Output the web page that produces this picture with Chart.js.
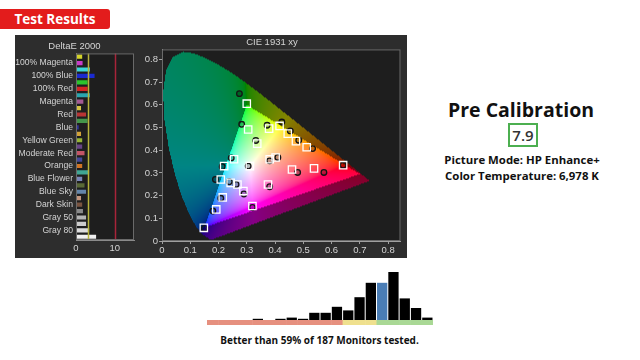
<!DOCTYPE html>
<html>
<head>
<meta charset="utf-8">
<script src="https://cdn.jsdelivr.net/npm/chart.js@4.4.0/dist/chart.umd.min.js"></script>
<style>
  html, body { margin: 0; padding: 0; background: #fff; }
  body { width: 640px; height: 360px; position: relative; overflow: hidden; font-family: "Open Sans", sans-serif; }
  .badge { position: absolute; left: 0; top: 9px; width: 110px; height: 20px; background: #e31c1c; color: #fff;
           font-weight: 700; font-size: 13.5px; line-height: 20px; text-align: center; border-radius: 0 3px 3px 0; }
  .panel { position: absolute; left: 15px; top: 35px; width: 392px; height: 223px; background: #2d2d2d; }
  canvas { position: absolute; }
  #deltaChart { left: 15px; top: 36px; }
  #cieChart { left: 140px; top: 36px; }
  #histChart { left: 207px; top: 266px; }
  .txt { position: absolute; text-align: center; font-weight: 700; color: #111; white-space: nowrap; }
  #preCal { left: 420px; width: 202px; top: 97px; font-size: 19.5px; line-height: 26px; }
  #score { left: 508px; top: 123px; width: 26px; height: 20px; border: 2px solid #4caf50; font-size: 15px; line-height: 20px;
           color: #333; font-weight: 600; }
  #mode { left: 420px; width: 204px; top: 152px; font-size: 11.4px; line-height: 16px; }
  #temp { left: 420px; width: 204px; top: 168px; font-size: 11.4px; line-height: 16px; }
  #summary { left: 200px; width: 239px; top: 332px; font-size: 10px; line-height: 16px; }
</style>
</head>
<body>
<div class="badge">Test Results</div>
<div class="panel"></div>
<canvas id="deltaChart" width="125" height="221"></canvas>
<canvas id="cieChart" width="267" height="221"></canvas>
<canvas id="histChart" width="226" height="60"></canvas>
<div class="txt" id="preCal">Pre Calibration</div>
<div class="txt" id="score">7.9</div>
<div class="txt" id="mode">Picture Mode: HP Enhance+</div>
<div class="txt" id="temp">Color Temperature: 6,978 K</div>
<div class="txt" id="summary">Better than 59% of 187 Monitors tested.</div>

<script>
// DATA - DeltaE 2000 per patch (top to bottom)
const patchNames = ["100% Yellow", "100% Magenta", "100% Cyan", "100% Blue", "100% Green", "100% Red",
    "Cyan", "Magenta", "Yellow", "Red", "Green", "Blue", "Orange Yellow", "Yellow Green", "Purple",
    "Moderate Red", "Purplish Blue", "Orange", "Bluish Green", "Blue Flower", "Foliage", "Blue Sky",
    "Light Skin", "Dark Skin", "Gray 35", "Gray 50", "Gray 65", "Gray 80", "White"];
const deltaE = [1.6, 1.7, 3.6, 4.8, 3.0, 3.0, 3.6, 1.9, 1.3, 2.6, 3.0, 0.7, 1.3, 1.6, 1.6,
    2.2, 1.6, 1.6, 3.4, 1.6, 2.2, 2.6, 1.3, 1.6, 1.8, 2.6, 2.6, 3.4, 5.2];
const deltaTicks = [0, 10];
const deltaLimits = [3, 10];

// DATA - CIE 1931 spectral locus (380-700 nm)
const locusX = [0.1741, 0.1740, 0.1738, 0.1736, 0.1733, 0.1730, 0.1726, 0.1721, 0.1714, 0.1703, 0.1689,
    0.1669, 0.1644, 0.1611, 0.1566, 0.1510, 0.1440, 0.1355, 0.1241, 0.1096, 0.0913, 0.0687, 0.0454,
    0.0235, 0.0082, 0.0039, 0.0139, 0.0389, 0.0743, 0.1142, 0.1547, 0.1929, 0.2296, 0.2658, 0.3016,
    0.3373, 0.3731, 0.4087, 0.4441, 0.4788, 0.5125, 0.5448, 0.5752, 0.6029, 0.6270, 0.6482, 0.6658,
    0.6801, 0.6915, 0.7006, 0.7079, 0.7140, 0.7190, 0.7230, 0.7260, 0.7283, 0.7300, 0.7311, 0.7320,
    0.7334, 0.7347];
const locusY = [0.0050, 0.0050, 0.0049, 0.0049, 0.0048, 0.0048, 0.0048, 0.0048, 0.0051, 0.0058, 0.0069,
    0.0086, 0.0109, 0.0138, 0.0177, 0.0227, 0.0297, 0.0399, 0.0578, 0.0868, 0.1327, 0.2007, 0.2950,
    0.4127, 0.5384, 0.6548, 0.7502, 0.8120, 0.8338, 0.8262, 0.8059, 0.7816, 0.7543, 0.7243, 0.6923,
    0.6589, 0.6245, 0.5896, 0.5547, 0.5202, 0.4866, 0.4544, 0.4242, 0.3965, 0.3725, 0.3514, 0.3340,
    0.3197, 0.3083, 0.2993, 0.2920, 0.2859, 0.2809, 0.2770, 0.2740, 0.2717, 0.2700, 0.2689, 0.2680,
    0.2666, 0.2653];
// gamut triangle R, G, B
const gamutX = [0.70, 0.30, 0.15];
const gamutY = [0.295, 0.60, 0.06];

// DATA - targets (squares) and measured (circles)
const targetX = [0.300, 0.305, 0.379, 0.416, 0.445, 0.474, 0.337, 0.512, 0.255, 0.220, 0.381, 0.402, 0.311,
    0.460, 0.538, 0.641, 0.208, 0.243, 0.267, 0.288, 0.375, 0.215, 0.192, 0.320, 0.148];
const targetY = [0.605, 0.491, 0.495, 0.507, 0.473, 0.440, 0.429, 0.413, 0.360, 0.330, 0.360, 0.368, 0.330,
    0.315, 0.320, 0.334, 0.271, 0.256, 0.249, 0.220, 0.249, 0.192, 0.139, 0.154, 0.058];
const measX = [0.274, 0.282, 0.372, 0.424, 0.454, 0.484, 0.332, 0.533, 0.245, 0.213, 0.381, 0.410, 0.305,
    0.480, 0.573, 0.641, 0.189, 0.238, 0.262, 0.290, 0.381, 0.208, 0.180, 0.320, 0.150];
const measY = [0.649, 0.514, 0.510, 0.524, 0.485, 0.444, 0.443, 0.407, 0.366, 0.327, 0.353, 0.368, 0.330,
    0.302, 0.302, 0.334, 0.271, 0.261, 0.249, 0.207, 0.239, 0.188, 0.132, 0.148, 0.055];
const cieTicks = [0, 0.1, 0.2, 0.3, 0.4, 0.5, 0.6, 0.7, 0.8];

// DATA - histogram of monitors tested
const histBins = ["1", "2", "3", "4", "5", "6", "7", "8", "9", "10", "11", "12", "13", "14", "15", "16", "17", "18", "19", "20"];
const monitorCounts = [0, 0, 0, 0, 1, 0, 1, 2, 1, 6, 6, 11, 8, 19, 31, 31, 40, 18, 10, 2];
const currentBin = 15;
const binGrade = ["r", "r", "r", "r", "r", "r", "r", "r", "r", "r", "r", "r", "y", "y", "y", "g", "g", "g", "g", "g"];

// STYLES
const patchColors = ["#d4d42a", "#c83cc8", "#3cd6d6", "#1a2ad0", "#2cc42c", "#d42424", "#2aa6ae", "#a45a94",
    "#d6c444", "#b83434", "#44964a", "#30349a", "#d2a238", "#96b436", "#6a4488", "#c45466", "#44489a",
    "#d27424", "#40a694", "#7a86b8", "#5a6a36", "#6486aa", "#c4967e", "#7a5440", "#8a8a8a", "#b4b4b4",
    "#cccccc", "#dddddd", "#f0f0f0"];
const gradeColors = { r: "#e6907f", y: "#efe08e", g: "#a9d895" };
const axisText = "#d4d4d4";

Chart.defaults.font.family = '"Liberation Sans", Arial, sans-serif';

// PLOT BACKGROUND + FRAME
const plotFrame = {
    id: "plotFrame",
    beforeDraw(chart) {
        const { ctx, chartArea: a } = chart;
        ctx.save();
        ctx.fillStyle = "#1e1e1e";
        ctx.fillRect(a.left, a.top, a.right - a.left, a.bottom - a.top);
        ctx.restore();
    },
    afterDraw(chart) {
        const { ctx, chartArea: a } = chart;
        ctx.save();
        ctx.strokeStyle = "#6a6a6a";
        ctx.lineWidth = 1;
        ctx.strokeRect(a.left + 0.5, a.top + 0.5, a.right - a.left - 1, a.bottom - a.top - 1);
        ctx.restore();
    }
};

// DELTA E THRESHOLD LINES
const limitLines = {
    id: "limitLines",
    afterDatasetsDraw(chart) {
        const { ctx, chartArea: a, scales: { x } } = chart;
        const colors = ["#b8b43c", "#a8243a"];
        ctx.save();
        deltaLimits.forEach((v, i) => {
            const px = Math.round(x.getPixelForValue(v)) + 0.5;
            ctx.strokeStyle = colors[i];
            ctx.lineWidth = 1.5;
            ctx.beginPath();
            ctx.moveTo(px, a.top);
            ctx.lineTo(px, a.bottom);
            ctx.stroke();
        });
        ctx.restore();
    }
};

// DELTA E CHART
new Chart(document.getElementById("deltaChart"), {
    type: "bar",
    data: {
        labels: patchNames,
        datasets: [{ data: deltaE, backgroundColor: patchColors, barPercentage: 0.65, categoryPercentage: 1 }]
    },
    options: {
        responsive: false,
        animation: false,
        indexAxis: "y",
        layout: { padding: { right: 6 } },
        plugins: {
            legend: { display: false },
            tooltip: { enabled: false },
            title: { display: true, text: "DeltaE 2000", color: axisText, font: { size: 9.5, weight: "normal" }, padding: { top: 5, bottom: 1 } }
        },
        scales: {
            x: {
                min: 0, max: 15,
                afterBuildTicks: s => { s.ticks = deltaTicks.map(v => ({ value: v })); },
                afterFit: s => { s.height = 17; },
                ticks: { color: axisText, font: { size: 9.5 }, padding: 3 },
                grid: { display: false, drawTicks: false },
                border: { color: "#8a8a8a" }
            },
            y: {
                afterFit: s => { s.width = 61; },
                ticks: { autoSkip: false, color: axisText, font: { size: 8.6 }, padding: 3, callback: (v, i) => i % 2 ? patchNames[i] : "" },
                grid: { display: false, drawTicks: false },
                border: { color: "#8a8a8a" }
            }
        }
    },
    plugins: [plotFrame, limitLines]
});

// CIE COLOUR FIELD
function insidePoly(px, py, xs, ys) {
    let inside = false;
    for (let i = 0, j = xs.length - 1; i < xs.length; j = i++) {
        if ((ys[i] > py) !== (ys[j] > py) && px < (xs[j] - xs[i]) * (py - ys[i]) / (ys[j] - ys[i]) + xs[i]) inside = !inside;
    }
    return inside;
}

function xyToRgb(cx, cy) {
    const X = cx / cy, Y = 1, Z = (1 - cx - cy) / cy;
    let r = 3.2406 * X - 1.5372 * Y - 0.4986 * Z;
    let g = -0.9689 * X + 1.8758 * Y + 0.0415 * Z;
    let b = 0.0557 * X - 0.2040 * Y + 1.0570 * Z;
    const m = Math.min(r, g, b);
    if (m < 0) { r -= m; g -= m; b -= m; }
    const M = Math.max(r, g, b);
    const gam = v => v <= 0.0031308 ? 12.92 * v : 1.055 * Math.pow(v, 1 / 2.4) - 0.055;
    return [gam(r / M), gam(g / M), gam(b / M)];
}

const cieField = {
    id: "cieField",
    beforeDatasetsDraw(chart) {
        const { ctx, chartArea: a, scales: { x, y } } = chart;
        const w = Math.round(a.right - a.left), h = Math.round(a.bottom - a.top);
        const off = document.createElement("canvas");
        off.width = w; off.height = h;
        const octx = off.getContext("2d");
        const img = octx.createImageData(w, h);
        for (let py = 0; py < h; py++) {
            const cy = y.getValueForPixel(a.top + py + 0.5);
            for (let px = 0; px < w; px++) {
                const cx = x.getValueForPixel(a.left + px + 0.5);
                if (cy <= 0 || !insidePoly(cx, cy, locusX, locusY)) continue;
                const rgb = xyToRgb(cx, cy);
                const k = insidePoly(cx, cy, gamutX, gamutY) ? 1 : 0.52;
                const o = (py * w + px) * 4;
                img.data[o] = rgb[0] * 255 * k;
                img.data[o + 1] = rgb[1] * 255 * k;
                img.data[o + 2] = rgb[2] * 255 * k;
                img.data[o + 3] = 255;
            }
        }
        octx.putImageData(img, 0, 0);
        ctx.drawImage(off, a.left, a.top);
    }
};

// CIE CHART
const cieAxis = () => ({
    min: 0,
    afterBuildTicks: s => { s.ticks = cieTicks.map(v => ({ value: v })); },
    ticks: { color: axisText, font: { size: 9.5 }, padding: 1, callback: v => String(+v.toFixed(1)) },
    grid: { display: true, drawOnChartArea: false, drawTicks: true, tickLength: 3, color: "#a0a0a0" },
    border: { color: "#a0a0a0" }
});

new Chart(document.getElementById("cieChart"), {
    type: "scatter",
    data: {
        datasets: [
            {
                data: targetX.map((v, i) => ({ x: v, y: targetY[i] })),
                pointStyle: "rect", pointRadius: 5.2, backgroundColor: "rgba(0,0,0,0)",
                borderColor: "#ffffff", borderWidth: 1.3, order: 0
            },
            {
                data: measX.map((v, i) => ({ x: v, y: measY[i] })),
                pointStyle: "circle", pointRadius: 2.8, backgroundColor: "rgba(0,0,0,0.25)",
                borderColor: "#151515", borderWidth: 1.3, order: 1
            }
        ]
    },
    options: {
        responsive: false,
        animation: false,
        layout: { padding: { right: 3 } },
        plugins: {
            legend: { display: false },
            tooltip: { enabled: false },
            title: { display: true, text: "CIE 1931 xy", color: axisText, font: { size: 9.5, weight: "normal" }, padding: { top: 1, bottom: 1 } }
        },
        scales: {
            x: { ...cieAxis(), max: 0.844, afterFit: s => { s.height = 16; } },
            y: { ...cieAxis(), max: 0.844, afterFit: s => { s.width = 22; } }
        }
    },
    plugins: [plotFrame, cieField]
});

// HISTOGRAM GRADE BAND
const gradeBand = {
    id: "gradeBand",
    beforeDatasetsDraw(chart) {
        const { ctx, chartArea: a, scales: { x } } = chart;
        const bw = x.getPixelForValue(1) - x.getPixelForValue(0);
        ctx.save();
        binGrade.forEach((g, i) => {
            const cx = x.getPixelForValue(i);
            ctx.fillStyle = gradeColors[g];
            ctx.fillRect(cx - bw / 2, a.bottom, bw + 0.5, 5);
        });
        ctx.restore();
    }
};

new Chart(document.getElementById("histChart"), {
    type: "bar",
    data: {
        labels: histBins,
        datasets: [{
            data: monitorCounts,
            backgroundColor: monitorCounts.map((_, i) => i === currentBin ? "#4a7db5" : "#000000"),
            barPercentage: 0.91, categoryPercentage: 1
        }]
    },
    options: {
        responsive: false,
        animation: false,
        layout: { padding: { bottom: 6 } },
        plugins: { legend: { display: false }, tooltip: { enabled: false } },
        scales: {
            x: { display: false },
            y: { display: false, min: 0, max: 45 }
        }
    },
    plugins: [gradeBand]
});
</script>
</body>
</html>
